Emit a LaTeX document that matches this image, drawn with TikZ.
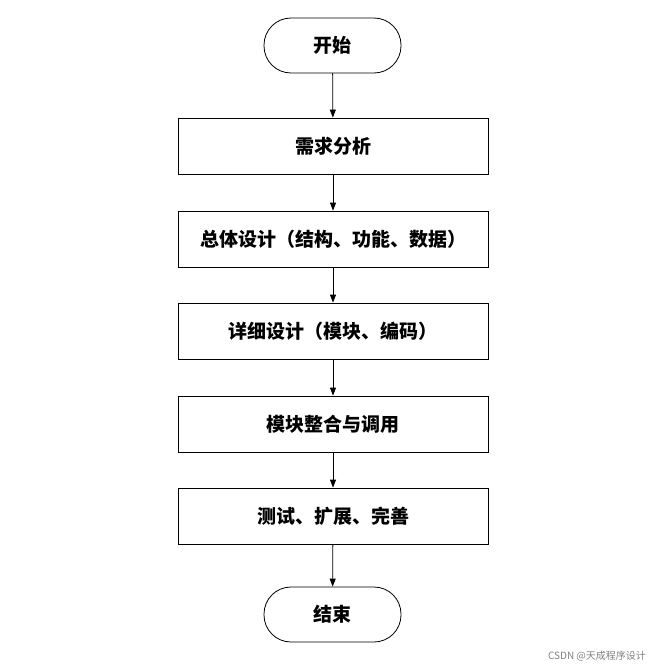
\documentclass[tikz,border=0pt]{standalone}
\usepackage{fontspec}
\newfontfamily\cjk{Noto Sans CJK SC}
\usetikzlibrary{arrows.meta}
\begin{document}
\begin{tikzpicture}[x=1pt,y=-1pt,
  proc/.style={draw,line width=0.8pt,minimum width=310pt,minimum height=56pt,font=\cjk\fontsize{19}{22}\selectfont\bfseries},
  term/.style={draw,line width=0.8pt,rounded corners=27pt,minimum width=137pt,minimum height=55pt,font=\cjk\fontsize{19}{22}\selectfont\bfseries},
  arr/.style={-{Triangle[length=8pt,width=6pt]},line width=0.8pt}]
\useasboundingbox (0,0) rectangle (669,669);
\node[term] (s) at (332.5,45.5) {开始};
\node[proc] (a) at (333,146) {需求分析};
\node[proc] (b) at (333,239) {总体设计（结构、功能、数据）};
\node[proc] (c) at (333,331) {详细设计（模块、编码）};
\node[proc] (d) at (333,424) {模块整合与调用};
\node[proc] (e) at (333,516) {测试、扩展、完善};
\node[term] (f) at (332.5,614.5) {结束};
\draw[arr] (s) -- (a);
\draw[arr] (a) -- (b);
\draw[arr] (b) -- (c);
\draw[arr] (c) -- (d);
\draw[arr] (d) -- (e);
\draw[arr] (e) -- (f);
\node[text=gray,font=\cjk\fontsize{10}{12}\selectfont] (w) at (597,656) {CSDN @天成程序设计};
\end{tikzpicture}
\end{document}
